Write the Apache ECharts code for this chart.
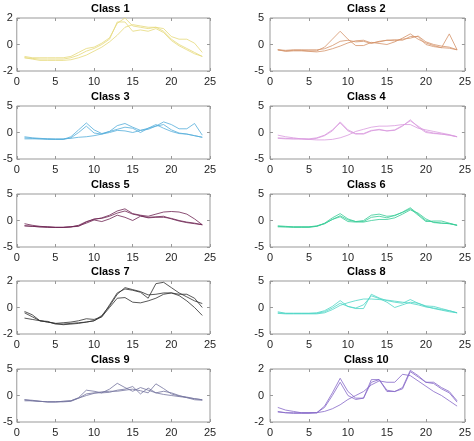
<!DOCTYPE html>
<html>
<head>
<meta charset="utf-8">
<script src="https://cdn.jsdelivr.net/npm/echarts@6/dist/echarts.min.js"></script>
<style>
html,body{margin:0;padding:0;background:#fff;}
#chart{width:474px;height:441px;}
</style>
</head>
<body>
<div id="chart"></div>
<script>
// ---- data ----
var xValues = [1,2,3,4,5,6,7,8,9,10,11,12,13,14,15,16,17,18,19,20,21,22,23,24];
var classNames = ["Class 1","Class 2","Class 3","Class 4","Class 5","Class 6","Class 7","Class 8","Class 9","Class 10"];
var yLimits = [[-2,2],[-5,5],[-5,5],[-5,5],[-5,5],[-5,5],[-2,2],[-5,5],[-5,5],[-2,2]];
var xTicks = [0,5,10,15,20,25];

var class1 = [
  [-0.9,-1.0,-1.0,-1.0,-1.0,-1.0,-0.9,-0.6,-0.3,-0.2,0.1,0.5,1.6,2.0,1.4,1.3,1.2,1.3,1.0,0.4,0.0,-0.3,-0.6,-0.9],
  [-1.0,-1.05,-1.1,-1.1,-1.1,-1.1,-1.0,-0.8,-0.5,-0.3,0.0,0.4,1.7,1.7,1.0,1.1,1.0,1.2,0.9,0.3,-0.1,-0.4,-0.7,-0.9],
  [-1.0,-1.1,-1.2,-1.2,-1.2,-1.2,-1.15,-1.0,-0.8,-0.5,-0.2,0.2,0.7,1.3,1.5,1.4,1.3,1.3,1.2,0.6,0.4,0.4,0.1,-0.6]
];
var class2 = [
  [-1.0,-1.2,-1.1,-1.1,-1.2,-1.2,-0.5,1.0,2.5,1.0,-0.2,-0.2,0.4,0.2,0.0,0.5,1.2,2.0,1.0,0.3,-0.2,-0.6,2.0,-1.0],
  [-1.0,-1.3,-1.2,-1.2,-1.3,-1.4,-1.2,-0.8,-0.3,0.3,0.7,0.8,0.3,0.5,0.8,0.9,0.8,1.5,1.5,0.0,-0.4,-0.6,-0.7,-1.0],
  [-1.0,-1.1,-1.0,-1.0,-1.0,-1.0,-0.8,-0.2,0.6,0.8,0.5,0.6,0.2,0.6,0.8,0.7,1.0,1.2,1.6,0.5,0.0,-0.3,-0.5,-1.0]
];
var class3 = [
  [-1.0,-1.1,-1.2,-1.2,-1.3,-1.3,-0.8,0.5,1.8,0.5,-0.2,0.2,1.3,1.7,1.0,0.4,0.6,1.2,2.0,1.5,0.7,0.7,1.7,-0.5],
  [-1.2,-1.2,-1.2,-1.3,-1.3,-1.3,-1.0,0.0,1.2,-0.1,-0.3,0.2,0.6,1.0,0.8,0.0,0.8,1.5,0.8,0.2,-0.2,-0.3,-0.6,-0.9],
  [-0.8,-1.0,-1.1,-1.2,-1.2,-1.2,-1.1,-0.9,-0.8,-0.6,-0.3,0.0,0.4,0.3,0.0,0.4,0.8,1.2,1.5,0.5,-0.1,-0.3,-0.6,-0.9]
];
var class4 = [
  [-1.0,-1.1,-1.2,-1.2,-1.3,-1.1,-0.6,0.3,2.0,0.5,-0.2,-0.3,0.3,0.6,0.3,0.4,1.2,2.4,1.0,0.0,-0.2,-0.3,-0.5,-0.8],
  [-0.5,-0.8,-1.0,-1.2,-1.3,-1.4,-1.4,-1.3,-1.0,-0.5,0.2,0.6,1.0,1.2,1.2,1.3,1.5,1.5,0.8,0.5,0.2,-0.1,-0.4,-0.8],
  [-1.1,-1.2,-1.2,-1.2,-1.2,-1.0,-0.5,0.5,1.8,0.3,-0.3,-0.2,0.4,0.5,0.3,0.5,1.3,2.2,1.2,0.2,-0.1,-0.3,-0.5,-0.8]
];
var class5 = [
  [-0.6,-0.9,-1.1,-1.2,-1.3,-1.3,-1.2,-0.9,-0.2,0.2,0.5,1.0,1.8,2.2,1.3,1.0,0.8,1.2,1.6,1.7,1.6,1.2,0.3,-0.8],
  [-1.0,-1.1,-1.2,-1.2,-1.3,-1.3,-1.2,-1.0,-0.5,0.1,-0.2,0.3,1.0,0.6,0.0,0.8,0.6,0.7,0.8,0.3,-0.1,-0.4,-0.6,-0.8],
  [-1.0,-1.1,-1.2,-1.3,-1.3,-1.3,-1.2,-1.1,-0.3,0.3,0.4,0.8,1.4,1.8,1.2,0.9,0.5,0.6,0.6,0.4,0.0,-0.3,-0.5,-0.8]
];
var class6 = [
  [-1.0,-1.1,-1.2,-1.2,-1.2,-1.1,-0.5,0.5,1.3,0.3,-0.2,0.0,1.0,1.2,0.8,0.9,1.6,2.4,1.2,0.0,-0.3,-0.5,-0.6,-0.9],
  [-1.2,-1.2,-1.3,-1.3,-1.3,-1.1,-0.6,0.2,0.7,-0.2,-0.3,-0.2,0.6,0.8,0.5,1.0,1.5,2.2,1.0,-0.2,-0.1,-0.1,-0.5,-0.9],
  [-1.1,-1.2,-1.2,-1.2,-1.2,-1.0,-0.6,0.2,0.9,0.1,-0.2,-0.3,0.0,0.2,0.2,0.5,1.2,2.0,1.4,0.3,-0.4,-0.5,-0.6,-0.9]
];
var class7 = [
  [-0.3,-0.55,-1.0,-1.05,-1.25,-1.25,-1.2,-1.15,-1.1,-1.0,-0.7,0.2,1.1,1.4,1.3,1.15,0.7,1.8,1.9,1.5,1.1,0.8,0.5,0.3],
  [-0.4,-0.7,-1.0,-1.1,-1.2,-1.3,-1.25,-1.2,-1.1,-1.0,-0.6,0.1,1.0,1.5,1.35,1.2,0.95,1.0,1.1,1.1,1.0,1.0,0.7,0.0],
  [-0.8,-0.9,-1.0,-1.1,-1.2,-1.15,-1.1,-1.0,-0.85,-0.9,-0.7,0.0,0.7,0.75,0.4,0.35,0.5,0.7,1.0,1.1,0.9,0.5,0.0,-0.6]
];
var class8 = [
  [-0.8,-1.1,-1.1,-1.1,-1.1,-1.0,-0.6,0.2,1.3,0.2,-0.2,-0.2,2.5,1.8,1.3,1.0,0.8,1.5,0.8,0.2,-0.2,-0.5,-0.8,-1.0],
  [-1.1,-1.2,-1.2,-1.2,-1.2,-1.2,-1.0,-0.4,0.4,0.9,1.3,1.6,1.6,1.5,1.4,1.2,1.0,0.8,0.5,0.1,-0.1,-0.4,-0.6,-1.0],
  [-1.0,-1.1,-1.1,-1.1,-1.1,-1.1,-0.8,-0.1,0.8,0.2,-0.1,0.5,2.2,1.7,1.0,0.0,0.5,1.0,0.8,0.3,0.2,-0.2,-0.6,-1.0]
];
var class9 = [
  [-0.8,-1.0,-1.1,-1.2,-1.2,-1.1,-1.0,-0.4,1.0,0.8,0.5,1.2,2.3,1.5,0.8,1.5,1.0,0.5,0.2,0.0,-0.2,-0.4,-0.6,-0.8],
  [-0.8,-0.9,-1.1,-1.2,-1.2,-1.1,-1.0,-0.5,0.0,0.4,0.7,0.8,0.8,1.0,1.2,0.9,0.5,2.2,1.3,0.3,-0.1,-0.3,-0.6,-0.8],
  [-1.0,-1.0,-1.1,-1.2,-1.2,-1.2,-1.1,-0.5,0.3,0.5,0.5,0.6,1.0,1.2,1.7,0.3,1.4,0.5,0.8,0.5,0.0,-0.4,-0.8,-0.9]
];
var class10 = [
  [-1.2,-1.3,-1.35,-1.35,-1.35,-1.3,-0.8,0.2,1.3,0.3,-0.2,-0.2,1.2,1.2,0.4,0.3,0.6,1.9,1.5,1.0,0.9,0.5,0.2,-0.5],
  [-1.25,-1.3,-1.3,-1.3,-1.3,-1.3,-0.9,0.0,1.0,0.0,-0.3,-0.2,1.0,1.2,0.3,0.3,0.5,1.8,1.4,1.0,1.0,0.6,0.3,-0.4],
  [-0.9,-1.1,-1.2,-1.3,-1.3,-1.3,-1.2,-1.0,-0.7,-0.3,0.0,0.3,0.8,1.1,1.0,1.0,1.6,1.5,1.1,0.7,0.3,0.0,-0.4,-0.8]
];
var classData = [class1,class2,class3,class4,class5,class6,class7,class8,class9,class10];
var classColors = ["#e6d97a","#d4936a","#55aedb","#d99ade","#6e2452","#36cc96","#2e2e2e","#4ed6c6","#74749f","#8668c8"];

// ---- layout ----
var colLeft = [14, 270];
var plotW = 196;
var rowTop = [18, 106, 194, 281, 369];
var plotH = 53;

var axisColor = "#999999";
var labelColor = "#262626";
var fontFam = "Liberation Sans";
var titleFont = 11;

var mctx = document.createElement("canvas").getContext("2d");
mctx.font = "bold " + titleFont + "px " + fontFam;

function buildOption(withFrameAxes) {
  var grids = [], xAxes = [], yAxes = [], series = [], titles = [];
  for (var i = 0; i < 10; i++) {
    var col = i % 2, row = Math.floor(i / 2);
    var gl = colLeft[col], gt = rowTop[row];
    grids.push({left: gl, top: gt, width: plotW, height: plotH, show: true, borderColor: axisColor, borderWidth: 1, containLabel: false});
    var tw = mctx.measureText(classNames[i]).width;
    titles.push({text: classNames[i], left: Math.round(gl + plotW / 2 - 2 - tw / 2), top: gt - 15, padding: 0,
      textStyle: {fontFamily: fontFam, fontSize: titleFont, fontWeight: "bold", color: "#000"}});
    var yl = yLimits[i];
    var yInt = yl[1] === 2 ? 2 : 5;
    xAxes.push({type: "value", gridIndex: i, min: xTicks[0], max: xTicks[xTicks.length - 1], interval: 5,
      axisLine: {show: false, onZero: false},
      axisTick: {show: true, inside: true, length: 3, lineStyle: {color: axisColor}},
      splitLine: {show: false},
      axisLabel: {margin: 5, fontSize: 11, color: labelColor, fontFamily: fontFam}});
    yAxes.push({type: "value", gridIndex: i, min: yl[0], max: yl[1], interval: yInt,
      axisLine: {show: false, onZero: false},
      axisTick: {show: true, inside: true, length: 3, lineStyle: {color: axisColor}},
      splitLine: {show: false},
      axisLabel: {margin: col === 0 ? 4 : 6, fontSize: 11, color: labelColor, fontFamily: fontFam}});
    var lines = classData[i];
    for (var k = 0; k < lines.length; k++) {
      var ln = lines[k];
      var pts = [];
      for (var j = 0; j < xValues.length; j++) pts.push([xValues[j], ln[j]]);
      series.push({type: "line", xAxisIndex: i, yAxisIndex: i, data: pts, showSymbol: false,
        lineStyle: {color: classColors[i], width: 1, opacity: 0.8}});
    }
  }
  if (withFrameAxes) {
    for (var m = 0; m < 10; m++) {
      var yl2 = yLimits[m];
      xAxes.push({type: "value", gridIndex: m, position: "top", min: xTicks[0], max: xTicks[xTicks.length - 1], interval: 5,
        axisLine: {show: false, onZero: false}, axisLabel: {show: false}, splitLine: {show: false},
        axisTick: {show: true, inside: true, length: 3, lineStyle: {color: axisColor}}});
      yAxes.push({type: "value", gridIndex: m, position: "right", min: yl2[0], max: yl2[1], interval: yl2[1] === 2 ? 2 : 5,
        axisLine: {show: false, onZero: false}, axisLabel: {show: false}, splitLine: {show: false},
        axisTick: {show: true, inside: true, length: 3, lineStyle: {color: axisColor}}});
    }
  }
  return {animation: false, title: titles, grid: grids, xAxis: xAxes, yAxis: yAxes, series: series};
}

var dom = document.getElementById("chart");
var chart;
try {
  chart = echarts.init(dom);
  chart.setOption(buildOption(true));
} catch (e) {
  try { chart.dispose(); } catch (e2) {}
  dom.innerHTML = "";
  chart = echarts.init(dom);
  chart.setOption(buildOption(false));
}
</script>
</body>
</html>
